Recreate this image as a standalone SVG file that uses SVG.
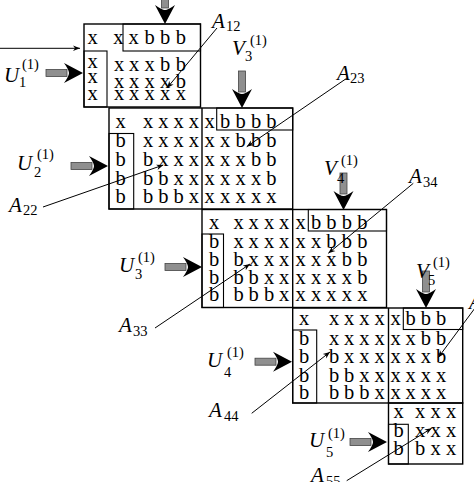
<svg xmlns="http://www.w3.org/2000/svg" xmlns:xlink="http://www.w3.org/1999/xlink" width="474" height="482" viewBox="0 0 474 482">
<style>
.m{font-family:"Liberation Serif",serif;font-size:20.5px;text-anchor:middle;fill:#000}
.bx{fill:none;stroke:#000;stroke-width:1.4}
.ib{fill:none;stroke:#000;stroke-width:1.1}
.lb{font-family:"Liberation Serif",serif;font-style:italic;font-size:21px;fill:#000}
.sp{font-family:"Liberation Serif",serif;font-size:14.5px;fill:#000}
.ln{stroke:#000;stroke-width:1;fill:none;marker-end:url(#ah)}
</style>
<defs>
<marker id="ah" viewBox="0 0 10 10" refX="10" refY="5" markerWidth="7" markerHeight="7" markerUnits="userSpaceOnUse" orient="auto">
<path d="M0,1 L10,5 L0,9 L3,5 z" fill="#000"/>
</marker>
<g id="arr">
<rect x="-37" y="-3.5" width="21" height="7" fill="#8f8f8f" stroke="#444" stroke-width="0.8"/>
<path d="M0,0 L-19,-10 Q-14,-3 -14,0 Q-14,3 -19,10 Z" fill="#000"/>
</g>
</defs>

<g id="connectors">
<line class="ln" x1="0" y1="48.3" x2="80" y2="48.3"/>
<line class="ln" x1="217" y1="28" x2="167" y2="88"/>
<line class="ln" x1="346.7" y1="78.3" x2="246.7" y2="146.7"/>
<line class="ln" x1="43" y1="207" x2="163.3" y2="165"/>
<line class="ln" x1="413.3" y1="183.3" x2="328.3" y2="253.3"/>
<line class="ln" x1="155" y1="328" x2="250" y2="264"/>
<line class="ln" x1="251.7" y1="413.3" x2="330" y2="352"/>
<line class="ln" x1="475" y1="308" x2="438.3" y2="357.5"/>
<line class="ln" x1="346.7" y1="480.7" x2="431.7" y2="428.3"/>
<use xlink:href="#arr" transform="translate(165,24) rotate(90)"/>
<use xlink:href="#arr" transform="translate(242,108) rotate(90)"/>
<use xlink:href="#arr" transform="translate(343.5,210) rotate(90)"/>
<use xlink:href="#arr" transform="translate(426,308) rotate(90)"/>
<use xlink:href="#arr" transform="translate(83,73)"/>
<use xlink:href="#arr" transform="translate(108,166)"/>
<use xlink:href="#arr" transform="translate(202,267)"/>
<use xlink:href="#arr" transform="translate(292,361.7)"/>
<use xlink:href="#arr" transform="translate(387,442)"/>
</g>

<g id="block1">
<rect class="bx" x="84" y="24" width="116.5" height="83"/>
<rect class="ib" x="123" y="24" width="77.5" height="27"/>
<rect class="ib" x="84" y="51" width="23" height="56"/>
<text class="m" x="92.5 105.4 118.3 126 133.7 141.6 149.5 157.4 165.2 173 180.8" y="44">x x x b b b</text>
<text class="m" x="119 126.5 134 141.8 149.5 157.3 165 172.9 180.8" y="71">x x x b b</text>
<text class="m" x="119 126.5 134 141.8 149.5 157.3 165 172.9 180.8" y="88">x x x x b</text>
<text class="m" x="119 126.5 134 141.8 149.5 157.3 165 172.9 180.8" y="100">x x x x x</text>
<text class="m" x="92.5" y="68">x</text>
<text class="m" x="92.5" y="83">x</text>
<text class="m" x="92.5" y="100">x</text>
</g>

<g id="block2">
<rect class="bx" x="109" y="108" width="183.7" height="101"/>
<line class="bx" x1="202" y1="108" x2="202" y2="209"/>
<rect class="ib" x="216.7" y="108" width="76" height="22"/>
<rect class="ib" x="109" y="133.5" width="24.7" height="75.5"/>
<text class="m" x="120.5 134.2 148 155.6 163.3 171 178.6 186.2 193.9 201.7 209.5 217.2 225 232.7 240.5 248.2 256 263.6 271.3" y="128">x x x x x x b b b b</text>
<text class="m" x="120.5 134.2 148 155.6 163.3 171 178.6 186.2 193.9 201.7 209.5 217.2 225 232.7 240.5 248.2 256 263.6 271.3" y="147">b x x x x x x b b b</text>
<text class="m" x="120.5 134.2 148 155.6 163.3 171 178.6 186.2 193.9 201.7 209.5 217.2 225 232.7 240.5 248.2 256 263.6 271.3" y="166">b b x x x x x x b b</text>
<text class="m" x="120.5 134.2 148 155.6 163.3 171 178.6 186.2 193.9 201.7 209.5 217.2 225 232.7 240.5 248.2 256 263.6 271.3" y="184.5">b b b x x x x x x b</text>
<text class="m" x="120.5 134.2 148 155.6 163.3 171 178.6 186.2 193.9 201.7 209.5 217.2 225 232.7 240.5 248.2 256 263.6 271.3" y="203">b b b b x x x x x x</text>
</g>

<g id="block3">
<rect class="bx" x="202" y="209.5" width="184.5" height="98"/>
<line class="bx" x1="292.7" y1="209.5" x2="292.7" y2="307.5"/>
<rect class="ib" x="308.3" y="209.5" width="78.2" height="21.5"/>
<rect class="ib" x="202" y="234" width="21.5" height="73.5"/>
<text class="m" x="214.2 226.4 238.5 246.1 253.7 261.4 269 276.6 284.2 292.4 300.5 308.3 316 323.7 331.3 339 346.8 354.6 362.3" y="228.5">x x x x x x b b b b</text>
<text class="m" x="214.2 226.4 238.5 246.1 253.7 261.4 269 276.6 284.2 292.4 300.5 308.3 316 323.7 331.3 339 346.8 354.6 362.3" y="247.5">b x x x x x x b b b</text>
<text class="m" x="214.2 226.4 238.5 246.1 253.7 261.4 269 276.6 284.2 292.4 300.5 308.3 316 323.7 331.3 339 346.8 354.6 362.3" y="266">b b x x x x x x b b</text>
<text class="m" x="214.2 226.4 238.5 246.1 253.7 261.4 269 276.6 284.2 292.4 300.5 308.3 316 323.7 331.3 339 346.8 354.6 362.3" y="283.5">b b b x x x x x x b</text>
<text class="m" x="214.2 226.4 238.5 246.1 253.7 261.4 269 276.6 284.2 292.4 300.5 308.3 316 323.7 331.3 339 346.8 354.6 362.3" y="300.5">b b b b x x x x x x</text>
</g>

<g id="block4">
<rect class="bx" x="292.7" y="308" width="170" height="95"/>
<line class="bx" x1="388.5" y1="308" x2="388.5" y2="403"/>
<rect class="ib" x="403.3" y="308" width="59.4" height="21.5"/>
<rect class="ib" x="292.7" y="330" width="24" height="73"/>
<text class="m" x="304.2 319.1 334 341.6 349.2 356.8 364.4 372 379.6 387.6 395.5 403 410.5 418.2 425.8 433.4 441" y="325">x x x x x x b b b</text>
<text class="m" x="304.2 319.1 334 341.6 349.2 356.8 364.4 372 379.6 387.6 395.5 403 410.5 418.2 425.8 433.4 441" y="345">b x x x x x x b b</text>
<text class="m" x="304.2 319.1 334 341.6 349.2 356.8 364.4 372 379.6 387.6 395.5 403 410.5 418.2 425.8 433.4 441" y="363">b b x x x x x x b</text>
<text class="m" x="304.2 319.1 334 341.6 349.2 356.8 364.4 372 379.6 387.6 395.5 403 410.5 418.2 425.8 433.4 441" y="381.5">b b b x x x x x x</text>
<text class="m" x="304.2 319.1 334 341.6 349.2 356.8 364.4 372 379.6 387.6 395.5 403 410.5 418.2 425.8 433.4 441" y="398.5">b b b b x x x x x</text>
</g>

<g id="block5">
<rect class="bx" x="388.5" y="403" width="74.2" height="61"/>
<rect class="ib" x="388.5" y="424.3" width="19.8" height="39.7"/>
<text class="m" x="398.5 409.3 420 427.8 435.5 443.3 451" y="417.5">x x x x</text>
<text class="m" x="398.5 409.3 420 427.8 435.5 443.3 451" y="436.5">b x x x</text>
<text class="m" x="398.5 409.3 420 427.8 435.5 443.3 451" y="455">b b x x</text>
</g>

<g id="labels">
<g id="lU1"><text class="lb" x="4" y="82">U</text><text class="sp" x="22" y="69">(1)</text><text class="sp" x="19" y="87">1</text></g>
<g id="lU2"><text class="lb" x="17" y="170">U</text><text class="sp" x="37" y="159">(1)</text><text class="sp" x="34" y="177">2</text></g>
<g id="lU3"><text class="lb" x="119" y="272">U</text><text class="sp" x="138" y="262">(1)</text><text class="sp" x="135" y="279">3</text></g>
<g id="lU4"><text class="lb" x="207" y="367">U</text><text class="sp" x="227" y="357">(1)</text><text class="sp" x="224" y="377">4</text></g>
<g id="lU5"><text class="lb" x="309" y="447">U</text><text class="sp" x="328" y="438">(1)</text><text class="sp" x="326" y="457">5</text></g>
<g id="lV3"><text class="lb" x="232" y="55">V</text><text class="sp" x="250" y="45">(1)</text><text class="sp" x="245" y="61">3</text></g>
<g id="lV4"><text class="lb" x="324" y="175">V</text><text class="sp" x="341" y="165">(1)</text><text class="sp" x="337" y="183">4</text></g>
<g id="lV5"><text class="lb" x="416" y="278">V</text><text class="sp" x="433" y="267">(1)</text><text class="sp" x="428" y="285">5</text></g>
<g id="lA12"><text class="lb" x="212" y="28">A</text><text class="sp" x="226" y="31">12</text></g>
<g id="lA23"><text class="lb" x="337" y="80">A</text><text class="sp" x="350" y="83">23</text></g>
<g id="lA22"><text class="lb" x="9" y="212">A</text><text class="sp" x="23" y="215">22</text></g>
<g id="lA34"><text class="lb" x="409" y="183">A</text><text class="sp" x="423" y="187">34</text></g>
<g id="lA33"><text class="lb" x="119" y="332">A</text><text class="sp" x="133" y="336">33</text></g>
<g id="lA44"><text class="lb" x="209" y="417">A</text><text class="sp" x="224" y="421">44</text></g>
<g id="lA55"><text class="lb" x="311" y="482">A</text><text class="sp" x="326" y="486">55</text></g>
<g id="lA45"><text class="lb" x="469" y="309">A</text></g>
</g>
</svg>
